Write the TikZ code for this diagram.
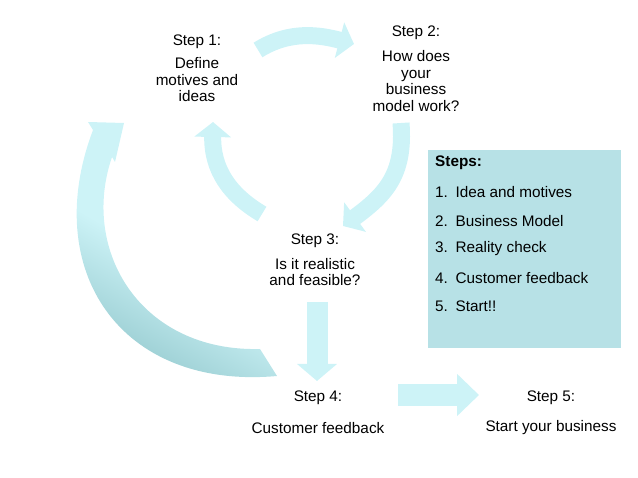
\documentclass[tikz,border=0pt]{standalone}
\usepackage{fontspec}
\setmainfont{Liberation Sans}
\usetikzlibrary{arrows.meta}
\definecolor{arr}{RGB}{205,243,247}
\definecolor{arre}{RGB}{175,220,226}
\definecolor{arrd}{RGB}{140,195,200}
\definecolor{boxc}{RGB}{183,225,230}
\begin{document}
\begin{tikzpicture}[x=1pt,y=-1pt,
  lbl/.style={align=center,font=\fontsize{15.3}{16.5}\selectfont,inner sep=0pt},
  curv/.style={draw=arr,line width=17pt,-{Triangle[width=36pt,length=15pt]}},
  item/.style={anchor=west,font=\fontsize{15.3}{16.5}\selectfont,inner sep=0pt}]
\useasboundingbox (0,0) rectangle (638,478);
% box
\fill[boxc] (428,150) rectangle (621,348);
\node[item,font=\fontsize{15.3}{16.5}\selectfont\bfseries] (st) at (435,163) {Steps:};
\node[item] (i1) at (435,192) {1.\enspace Idea and motives};
\node[item] (i2) at (435,221) {2.\enspace Business Model};
\node[item] (i3) at (435,249) {3.\enspace Reality check};
\node[item] (i4) at (435,278) {4.\enspace Customer feedback};
\node[item] (i5) at (435,306) {5.\enspace Start!!};
% labels
\node[lbl] (s1) at (197,42) {Step 1:};
\node[lbl] (d1) at (197,80) {Define\\motives and\\ideas};
\node[lbl] (s2) at (416,33) {Step 2:};
\node[lbl] (d2) at (416,81) {How does\\your\\business\\model work?};
\node[lbl] (s3) at (315,241) {Step 3:};
\node[lbl] (d3) at (315,272) {Is it realistic\\and feasible?};
\node[lbl] (s4) at (318,398) {Step 4:};
\node[lbl] (d4) at (318,428) {Customer feedback};
\node[lbl] (s5) at (551,398) {Step 5:};
\node[lbl] (d5) at (551,428) {Start your business};
% arrows
\coordinate (a1s) at (258,50); \coordinate (a1e) at (354,44);
\draw[curv] (a1s) .. controls (290,30) and (320,35) .. (a1e);
\coordinate (a2s) at (401,123); \coordinate (a2e) at (343,226);
\draw[curv] (a2s) .. controls (405,175) and (385,195) .. (a2e);
\coordinate (a3s) at (262,214); \coordinate (a3e) at (213,122);
\draw[curv] (a3s) .. controls (230,195) and (212,170) .. (a3e);
\coordinate (a4s) at (317,302); \coordinate (a4e) at (317,381);
\draw[draw=arr,line width=21pt,-{Triangle[width=39pt,length=17pt]}] (a4s) -- (a4e);
\coordinate (a5s) at (398,395); \coordinate (a5e) at (479,395);
\draw[draw=arr,line width=22pt,-{Triangle[width=41pt,length=22pt]}] (a5s) -- (a5e);
% big left arrow
\shade[left color=arr,right color=arrd,middle color=arr,shading angle=-30]
 (277,376) .. controls (120,390) and (40,270) .. (93,130)
 -- (88,122) -- (124,123) -- (115,162) -- (112,157)
 .. controls (80,250) and (140,352) .. (260,349) -- cycle;
\end{tikzpicture}
\end{document}
